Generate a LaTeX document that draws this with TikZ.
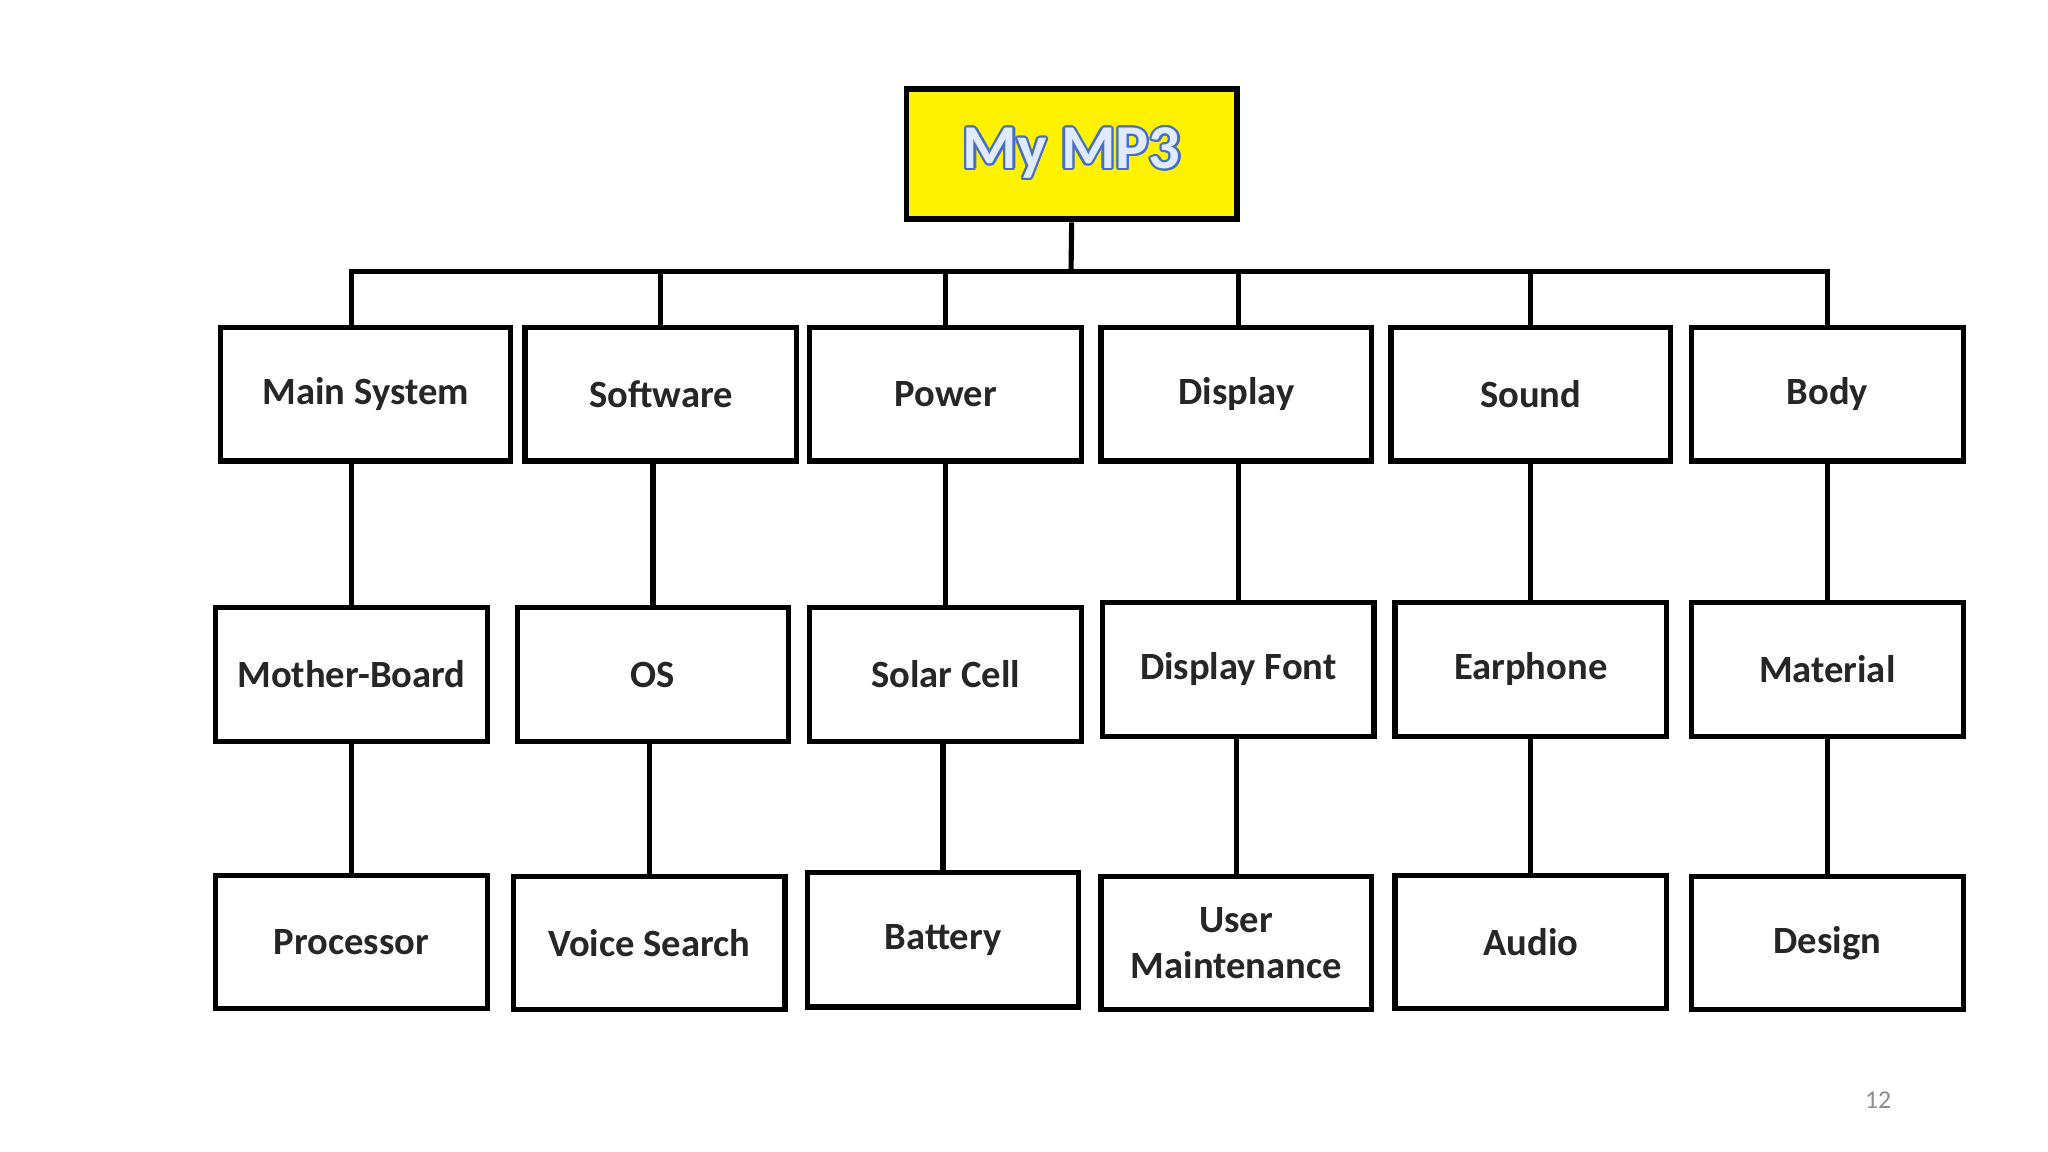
\documentclass[tikz,border=0pt]{standalone}
\usepackage{fontspec}
\setmainfont{Carlito}
\usepackage{contour}
\contourlength{0.6pt}
\begin{document}
\begin{tikzpicture}[x=0.0125cm,y=-0.0125cm,
  box/.style={draw=black,line width=1.4pt,inner sep=0pt,align=center,font=\fontsize{10.5}{12.5}\selectfont\bfseries,text=black!85},
  con/.style={line width=1.4pt,black}]
\useasboundingbox (0,0) rectangle (1568,882);
\newcommand{\bx}[6]{\node[box,minimum width={(#4-#3)*0.0125cm},minimum height={(#6-#5)*0.0125cm}] (#1) at ({(#3+#4)/2},{(#5+#6)/2}) {#2};}
\definecolor{ttl}{RGB}{225,235,255}
\definecolor{ttlo}{RGB}{70,110,200}
\node[draw=black,line width=1.6pt,fill=yellow,minimum width={253*0.0125cm},minimum height={100*0.0125cm},font=\fontsize{17}{20}\selectfont\bfseries,text=ttl] (root) at (820.5,118) {\contour{ttlo}{My MP3}};
\bx{ms}{Main System}{169}{391}{251}{353}
\bx{sw}{Software}{402}{610}{251}{353}
\bx{pw}{Power}{620}{828}{251}{353}
\bx{dp}{Display}{843}{1050}{251}{353}
\bx{sd}{Sound}{1065}{1279}{251}{353}
\bx{bd}{Body}{1295}{1503}{251}{353}
\bx{mb}{Mother-Board}{165}{373}{465}{568}
\bx{os}{OS}{396}{604}{465}{568}
\bx{sc}{Solar Cell}{620}{828}{465}{568}
\bx{df}{Display Font}{844}{1052}{461}{564}
\bx{ep}{Earphone}{1068}{1276}{461}{564}
\bx{mt}{Material}{1295}{1503}{461}{564}
\bx{pr}{Processor}{165}{373}{670}{772}
\bx{vs}{Voice Search}{393}{601}{671}{773}
\bx{bt}{Battery}{618}{826}{668}{771}
\bx{um}{User\\Maintenance}{843}{1050}{671}{773}
\bx{au}{Audio}{1068}{1276}{670}{772}
\bx{ds}{Design}{1295}{1503}{671}{773}
\coordinate (bus) at (820,208);
\draw[con] (root.south) -- (bus);
\draw[con] (269,251) |- (bus) -| (1399,251);
\foreach \x in {506,724,948,1172} \draw[con] (\x,208) -- (\x,251);
\foreach \a/\b in {ms/mb,sw/os,pw/sc,dp/df,sd/ep,bd/mt,mb/pr,os/vs,sc/bt,df/um,ep/au,mt/ds}
  \draw[con] (\b.north) -- (\b.north |- \a.south);
\node[text=black!45,font=\fontsize{7}{8}\selectfont] (pg) at (1438,842) {12};
\end{tikzpicture}
\end{document}
